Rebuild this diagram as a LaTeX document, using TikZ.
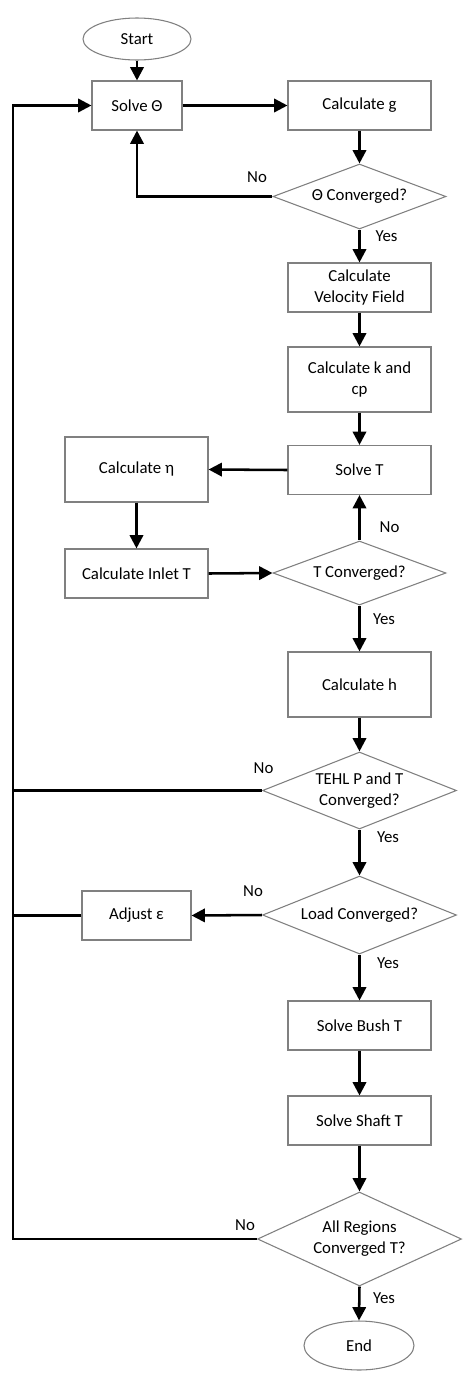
\documentclass[tikz,border=0pt]{standalone}
\usepackage{fontspec}
\setmainfont{Carlito}
\usetikzlibrary{shapes.geometric,arrows.meta}
\definecolor{bord}{RGB}{128,128,128}
\begin{document}
\begin{tikzpicture}[x=0.75pt,y=-0.75pt,
  every node/.style={font=\fontsize{12.6}{15.75}\selectfont, text=black},
  box/.style={draw=bord, line width=0.8pt, fill=white, rectangle, inner sep=0pt, align=center},
  term/.style={draw=bord, line width=0.8pt, fill=white, ellipse, inner sep=0pt, align=center},
  dec/.style={draw=bord, line width=0.8pt, fill=white, diamond, inner sep=0pt, align=center},
  conn/.style={line width=1.9pt, draw=black},
  arr/.style={conn, -{Triangle[width=10pt,length=10pt]}},
  lab/.style={inner sep=0pt}]
\useasboundingbox (0,0) rectangle (474,1382);
% nodes
\node[term, minimum width=81pt, minimum height=31.5pt] (start) at (137,39) {Start};
\node[box, minimum width=67.5pt, minimum height=36.75pt] (solveth) at (137,105.5) {Solve Θ};
\node[box, minimum width=107.25pt, minimum height=36.75pt] (calcg) at (359.5,105.5) {Calculate g};
\node[dec, minimum width=129.75pt, minimum height=48.75pt, aspect=2.66] (thconv) at (359.5,196.5) {Θ Converged?};
\node[box, minimum width=107.25pt, minimum height=36.75pt] (vel) at (359.5,287.5) {Calculate\\Velocity Field};
\node[box, minimum width=107.25pt, minimum height=48.75pt] (kcp) at (359.5,379.5) {Calculate k and\\cp};
\node[box, minimum width=107.25pt, minimum height=36.75pt] (solvet) at (359.5,470) {Solve T};
\node[box, minimum width=107.25pt, minimum height=48.75pt] (eta) at (136.5,469.5) {Calculate η};
\node[box, minimum width=107.25pt, minimum height=36.75pt] (inlet) at (136.5,573.5) {Calculate Inlet T};
\node[dec, minimum width=129.75pt, minimum height=48pt, aspect=2.7] (tconv) at (359.5,573) {T Converged?};
\node[box, minimum width=107.25pt, minimum height=48.75pt] (calch) at (359.5,684.5) {Calculate h};
\node[dec, minimum width=145.5pt, minimum height=57.75pt, aspect=2.52] (tehl) at (359.5,790.5) {TEHL P and T\\Converged?};
\node[dec, minimum width=145.5pt, minimum height=58.5pt, aspect=2.49] (load) at (359.5,915) {Load Converged?};
\node[box, minimum width=81.75pt, minimum height=36.75pt] (adj) at (136.5,915.5) {Adjust ε};
\node[box, minimum width=107.25pt, minimum height=36.75pt] (bush) at (359.5,1025.5) {Solve Bush T};
\node[box, minimum width=107.25pt, minimum height=36.75pt] (shaft) at (359.5,1120.5) {Solve Shaft T};
\node[dec, minimum width=153pt, minimum height=70.5pt, aspect=2.17] (allreg) at (359.5,1239) {All Regions\\Converged T?};
\node[term, minimum width=82.5pt, minimum height=36.75pt] (endn) at (359,1345.5) {End};
% labels
\node[lab] (no1) at (257,177) {No};
\node[lab] (yes1) at (386.5,236) {Yes};
\node[lab] (no2) at (389.5,527) {No};
\node[lab] (yes2) at (384,619) {Yes};
\node[lab] (no3) at (263.5,768) {No};
\node[lab] (yes3) at (388,837) {Yes};
\node[lab] (no4) at (253,891) {No};
\node[lab] (yes4) at (388,963) {Yes};
\node[lab] (no5) at (245,1225) {No};
\node[lab] (yes5) at (384,1298) {Yes};
% left loop line coordinates
\coordinate (lbot) at (13,1239);
\coordinate (ltop) at (13,105.5);
% connectors
\draw[arr] (start) -- (solveth);
\draw[arr] (solveth) -- (calcg);
\draw[arr] (calcg) -- (thconv);
\draw[arr] (thconv.west) -| (solveth.south);
\draw[arr] (thconv.south) -- (vel.north);
\draw[arr] (vel) -- (kcp);
\draw[arr] (kcp) -- (solvet);
\draw[arr] (solvet.west) -- (eta.east);
\draw[arr] (eta) -- (inlet);
\draw[arr] (inlet.east) -- (tconv.west);
\draw[arr] (tconv.north) -- (solvet.south);
\draw[arr] (tconv.south) -- (calch.north);
\draw[arr] (calch) -- (tehl.north);
\draw[arr] (tehl.south) -- (load.north);
\draw[conn] (tehl.west) -- (tehl.west -| ltop);
\draw[arr] (load.west) -- (adj.east);
\draw[conn] (adj.west) -- (adj.west -| ltop);
\draw[arr] (load.south) -- (bush.north);
\draw[arr] (bush) -- (shaft);
\draw[arr] (shaft) -- (allreg.north);
\draw[arr] (allreg.south) -- (endn.north);
\draw[arr] (allreg.west) -- (lbot) -- (ltop) -- (solveth.west);
\end{tikzpicture}
\end{document}
